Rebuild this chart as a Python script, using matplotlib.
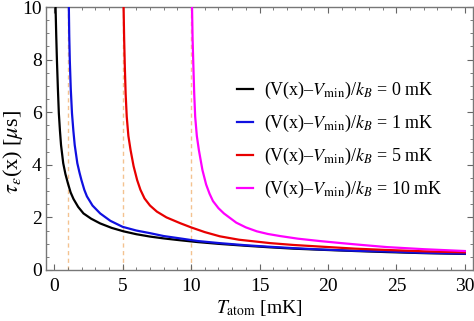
import numpy as np
import matplotlib
matplotlib.use("Agg")
import matplotlib.pyplot as plt
from matplotlib.ticker import MultipleLocator

plt.rcParams['font.family'] = ['Liberation Serif', 'DejaVu Serif']
plt.rcParams['mathtext.fontset'] = 'stix'

# values
T_0 = [0.10, 0.15, 0.20, 0.27, 0.34, 0.42, 0.50, 0.66, 0.82, 1.00, 1.20, 1.41, 1.75, 2.14, 2.7,
       3.36, 4.2, 5.06, 6.0, 7.0, 8.0, 9.2, 10.5, 12.1, 14.0, 15.8, 17.5, 19.4, 22.0, 24.3, 27.0, 30.0]
tau_0 = [10.0, 8.9, 7.98, 6.9, 5.96, 5.3, 4.75, 4.06, 3.65, 3.30, 2.95, 2.70, 2.40, 2.15, 1.95,
         1.77, 1.60, 1.47, 1.36, 1.27, 1.20, 1.13, 1.06, 0.99, 0.92, 0.86, 0.81, 0.77, 0.72, 0.68, 0.64, 0.61]

T_1 = [1.07, 1.10, 1.14, 1.21, 1.30, 1.40, 1.50, 1.69, 1.85, 1.99, 2.2, 2.39, 2.8, 3.36, 4.1,
       5.0, 6.0, 7.0, 8.0, 9.2, 10.5, 12.1, 14.0, 15.8, 17.5, 19.4, 22.0, 24.3, 27.0, 30.0]
tau_1 = [10.0, 8.9, 7.98, 6.9, 5.96, 5.3, 4.75, 4.06, 3.7, 3.42, 3.05, 2.80, 2.45, 2.15, 1.87,
         1.64, 1.50, 1.40, 1.29, 1.20, 1.10, 1.02, 0.94, 0.88, 0.83, 0.78, 0.73, 0.70, 0.65, 0.62]

T_5 = [5.07, 5.11, 5.16, 5.22, 5.30, 5.42, 5.58, 5.8, 6.06, 6.3, 6.6, 7.0, 7.5, 8.2, 9.2,
       10.0, 11.0, 12.1, 13.5, 15.8, 17.5, 19.4, 22.0, 24.3, 27.0, 30.0]
tau_5 = [10.0, 8.8, 7.73, 6.7, 5.83, 5.1, 4.56, 3.95, 3.42, 3.05, 2.72, 2.45, 2.22, 2.0, 1.78,
         1.62, 1.44, 1.28, 1.15, 1.02, 0.95, 0.89, 0.81, 0.76, 0.71, 0.67]

T_10 = [10.07, 10.11, 10.17, 10.23, 10.30, 10.42, 10.57, 10.83, 11.1, 11.35, 11.6, 12.0, 12.4,
        13.3, 14.0, 14.8, 15.6, 16.5, 17.8, 19.4, 21.0, 22.5, 24.3, 27.0, 30.0]
tau_10 = [10.0, 8.8, 7.73, 6.7, 5.83, 5.1, 4.56, 3.80, 3.25, 2.9, 2.62, 2.35, 2.15,
          1.80, 1.62, 1.47, 1.37, 1.29, 1.19, 1.10, 1.02, 0.95, 0.87, 0.79, 0.72]

vlines = [1, 5, 10]
labels = ['0', '1', '5', '10']
colors = ['black', '#1010e0', '#e80000', '#ff00ff']

fig = plt.figure(figsize=(4.74, 3.21), dpi=100)
ax = fig.add_axes([0.097, 0.159, 0.901, 0.819])

for v in vlines:
    ax.axvline(v, color='#f4c290', lw=1.0, ls=(0, (3, 2.5)), zorder=1)

series = [(T_0, tau_0), (T_1, tau_1), (T_5, tau_5), (T_10, tau_10)]
for (t, tau), lab, c in zip(series, labels, colors):
    ax.plot(t, tau, color=c, lw=1.6, zorder=3,
            label=r'(V(x)–$V_{\rm min}$)/$k_B$ = ' + lab + ' mK')

ax.set_xlim(-0.6, 30.6)
ax.set_ylim(0, 10)
ax.xaxis.set_major_locator(MultipleLocator(5))
ax.xaxis.set_minor_locator(MultipleLocator(1))
ax.yaxis.set_major_locator(MultipleLocator(2))
ax.yaxis.set_minor_locator(MultipleLocator(0.5))
ax.tick_params(which='both', direction='in', top=True, right=True, color='#666666')
ax.tick_params(which='major', length=4, width=0.8, labelsize=14, pad=3)
ax.tick_params(which='minor', length=2, width=0.6)
ax.tick_params(axis='x', pad=6)
for s in ax.spines.values():
    s.set_color('#777777')
    s.set_linewidth(1.0)

ax.set_xlabel(r'$T_{\rm atom}$ [mK]', fontsize=14, labelpad=2)
ax.set_ylabel(r'$\tau_\epsilon$(x) [$\mu$s]', fontsize=16)
ax.yaxis.set_label_coords(-0.05, 0.45)

ax.legend(loc='upper right', bbox_to_anchor=(0.966, 0.785), frameon=False,
          fontsize=13, handlelength=0.9, handletextpad=0.6, labelspacing=0.66)

fig.savefig('out.png', dpi=100)
